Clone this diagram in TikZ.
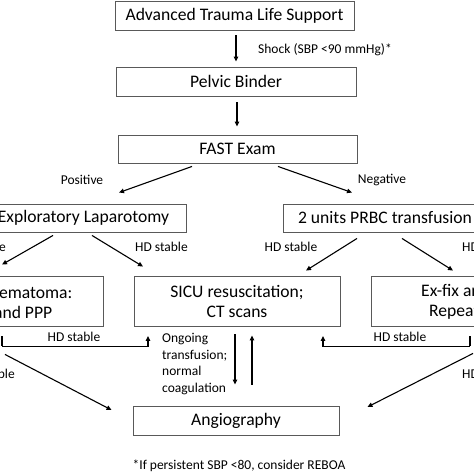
\documentclass[tikz,border=0pt]{standalone}
\usepackage{fontspec}
\setmainfont{Carlito}
\usetikzlibrary{arrows.meta,calc}
\begin{document}
\begin{tikzpicture}[x=1pt,y=-1pt,
  box/.style={draw=black!65,line width=0.9pt,fill=white,inner sep=0pt,font=\fontsize{17.6}{21}\selectfont},
  lbl/.style={font=\fontsize{13.5}{16.6}\selectfont,inner sep=0pt},
  txt/.style={font=\fontsize{17.6}{21}\selectfont,inner sep=0pt},
  arr/.style={-{Triangle[length=5pt,width=4.5pt]},line width=1.1pt,black},
  ln/.style={line width=1.1pt,black}]
\useasboundingbox (0,0) rectangle (474,474);
\clip (0,0) rectangle (474,474);
\fill[white] (0,0) rectangle (474,474);
% boxes
\node[box,minimum width=239pt,minimum height=29pt] (atls) at (234.5,15.5) {Advanced Trauma Life Support};
\node[box,minimum width=240pt,minimum height=29pt] (pb) at (236,81.5) {Pelvic Binder};
\node[box,minimum width=239pt,minimum height=28pt] (fast) at (237.5,149) {FAST Exam};
\node[box,minimum width=205pt,minimum height=28pt] (exlap) at (83.5,218) {Exploratory Laparotomy};
\node[box,minimum width=204pt,minimum height=28pt] (prbc) at (385,218) {2 units PRBC transfusion};
\node[box,minimum width=206pt,minimum height=50pt,align=center] (sicu) at (237,301) {SICU resuscitation;\\[-1pt]CT scans};
\node[box,minimum width=170pt,minimum height=50pt] (lbox) at (18,301) {};
\node[box,minimum width=170pt,minimum height=50pt] (rbox) at (456,301) {};
\node[box,minimum width=206pt,minimum height=29pt] (angio) at (236,420.5) {Angiography};
% partial box texts
\node[txt,anchor=east] (l1) at (72.5,292) {Pelvic hematoma:};
\node[txt,anchor=east] (l2) at (52.5,312) {Ex-fix and PPP};
\node[txt,anchor=west] (r1) at (421,292) {Ex-fix and PPP;};
\node[txt,anchor=west] (r2) at (429,312) {Repeat FAST};
% vertical arrows
\draw[arr] ($(atls.south)+(1.5,5)$) -- ($(pb.north)+(0,-5)$);
\draw[arr] ($(pb.south)+(1,6)$) -- ($(fast.north)+(-0.5,-8)$);
% branches
\draw[arr] ($(fast.south)+(-45.5,3)$) -- ($(exlap.north)+(35.5,-11)$);
\draw[arr] ($(fast.south)+(40.5,3)$) -- ($(prbc.north)+(-33,-11)$);
\draw[arr] ($(exlap.south)+(-30.5,3)$) -- ($(lbox.north)+(-16,-11)$);
\draw[arr] ($(exlap.south)+(8.5,3)$) -- ($(sicu.north)+(-94,-9)$);
\draw[arr] ($(prbc.south)+(-28,6)$) -- ($(sicu.north)+(69,-5)$);
\draw[arr] ($(prbc.south)+(17,6)$) -- ($(rbox.north)+(-3,-5)$);
% elbows
\coordinate (le) at ($(lbox.south)+(-16,20)$);
\coordinate (re) at ($(rbox.south)+(14,20)$);
\draw[ln] ($(lbox.south)+(-16,10)$) -- (le);
\draw[arr] (le) -- ($(sicu.south)+(-89,20)$) -- ($(sicu.south)+(-89,9.5)$);
\draw[ln] ($(rbox.south)+(14,10)$) -- (re);
\draw[arr] (re) -- ($(sicu.south)+(86,20)$) -- ($(sicu.south)+(86,9.5)$);
% ongoing
\draw[arr] ($(sicu.south)+(-2,8)$) -- ($(angio.north)+(-1,-21)$);
\draw[arr] ($(angio.north)+(16,-21)$) -- ($(sicu.south)+(15,9)$);
% to angiography
\draw[arr] ($(lbox.south)+(-13,28)$) -- ($(angio.west)+(-21,-10.5)$);
\draw[arr] ($(rbox.south)+(17,27)$) -- ($(angio.east)+(28,-13.5)$);
% labels
\node[lbl,anchor=west] (shock) at (258,50) {Shock (SBP <90 mmHg)*};
\node[lbl] (pos) at (82,180) {Positive};
\node[lbl] (neg) at (382,180) {Negative};
\node[lbl,anchor=east] (hu1) at (6,247) {HD unstable};
\node[lbl] (hs1) at (161.5,247) {HD stable};
\node[lbl] (hs2) at (291,247) {HD stable};
\node[lbl,anchor=west] (hu2) at (462,247) {HD unstable};
\node[lbl] (hs3) at (74,337) {HD stable};
\node[lbl] (hs4) at (400,337) {HD stable};
\node[lbl,anchor=east] (hu3) at (15,374) {HD unstable};
\node[lbl,anchor=west] (hu4) at (462,374) {HD unstable};
\node[lbl,anchor=west,align=left] (ong) at (162,364) {Ongoing\\transfusion;\\normal\\coagulation};
\node[lbl] (foot) at (239,466) {*If persistent SBP <80, consider REBOA};
\end{tikzpicture}
\end{document}
